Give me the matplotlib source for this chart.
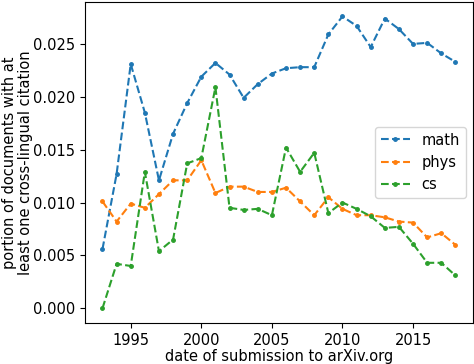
import numpy as np
import matplotlib
matplotlib.use("Agg")
import matplotlib.pyplot as plt

# data
years = np.arange(1993, 2019)

math = [0.0056, 0.0127, 0.0231, 0.0185, 0.0121, 0.0165, 0.0194, 0.0219,
        0.0232, 0.0221, 0.0199, 0.0212, 0.0222, 0.0227, 0.0228, 0.0228,
        0.0259, 0.0276, 0.0267, 0.0247, 0.0274, 0.0264, 0.0250, 0.0251,
        0.0241, 0.0233]

phys = [0.0101, 0.0082, 0.0099, 0.0095, 0.0108, 0.0121, 0.0121, 0.0140,
        0.0109, 0.0115, 0.0115, 0.0110, 0.0110, 0.0114, 0.0101, 0.0088,
        0.0105, 0.0094, 0.0088, 0.0088, 0.0086, 0.0082, 0.0081, 0.0067,
        0.0071, 0.0060]

cs = [0.0000, 0.0042, 0.0040, 0.0129, 0.0054, 0.0065, 0.0137, 0.0142,
      0.0209, 0.0095, 0.0093, 0.0094, 0.0088, 0.0152, 0.0129, 0.0147,
      0.0090, 0.0100, 0.0094, 0.0087, 0.0076, 0.0077, 0.0061, 0.0043,
      0.0043, 0.0031]

plt.rcParams['font.size'] = 10.5

fig = plt.figure(figsize=(4.74, 3.64), dpi=100)
ax = fig.add_axes([0.179, 0.113, 0.819, 0.882])

ax.plot(years, math, '.--', label='math', markersize=5)
ax.plot(years, phys, '.--', label='phys', markersize=5)
ax.plot(years, cs, '.--', label='cs', markersize=5)

ax.set_xticks([1995, 2000, 2005, 2010, 2015])
ax.set_yticks([0.0, 0.005, 0.010, 0.015, 0.020, 0.025])
ax.set_yticklabels(['0.000', '0.005', '0.010', '0.015', '0.020', '0.025'])

ax.set_xlabel('date of submission to arXiv.org', labelpad=1)
ax.set_ylabel('portion of documents with at\nleast one cross-lingual citation',
              linespacing=1.1)
ax.yaxis.set_label_coords(-0.134, 0.5)
ax.legend(loc='center right')

fig.savefig('out.png', dpi=100)
